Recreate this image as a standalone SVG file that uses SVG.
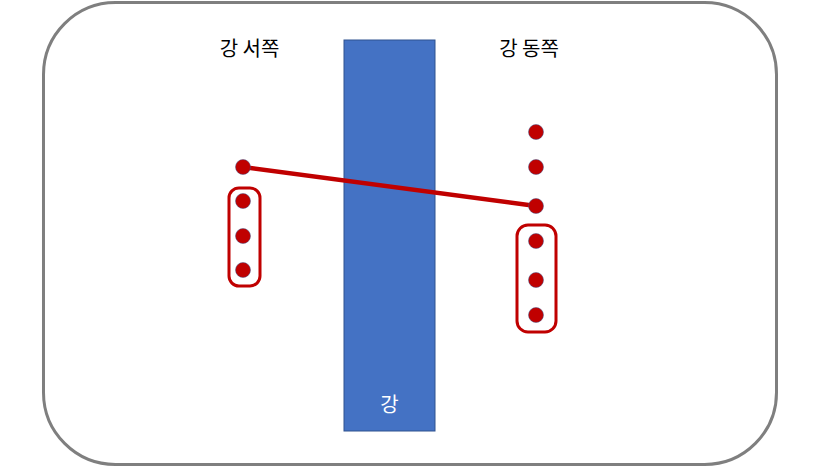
<svg xmlns="http://www.w3.org/2000/svg" width="820" height="467" viewBox="0 0 820 467">
<style>
.lbl{font-family:"Noto Sans CJK KR","Noto Sans CJK SC",sans-serif;font-size:20px;text-anchor:middle}
.dot{fill:#C00000;stroke:#41558A;stroke-width:0.5}
.grp{fill:none;stroke:#C00000;stroke-width:3}
</style>
<rect width="820" height="467" fill="#FFFFFF"/>
<g id="frame"><rect x="43.5" y="2.5" width="733" height="462" rx="72" ry="72" fill="#FFFFFF" stroke="#7F7F7F" stroke-width="3"/></g>
<g id="river"><rect x="344" y="40" width="91" height="391" fill="#4472C4" stroke="#2F528F" stroke-width="1"/>
<text class="lbl" x="389.5" y="412" fill="#FFFFFF">강</text></g>
<g id="west-label"><text class="lbl" x="249.5" y="56" fill="#000000">강 서쪽</text></g>
<g id="east-label"><text class="lbl" x="529" y="56" fill="#000000">강 동쪽</text></g>
<g id="connectors"><line x1="243" y1="167" x2="536" y2="206" stroke="#C00000" stroke-width="4.5"/></g>
<g id="west-group"><rect class="grp" x="229" y="188" width="31" height="98" rx="10" ry="10"/></g>
<g id="east-group"><rect class="grp" x="517" y="225" width="39" height="107" rx="11" ry="11"/></g>
<g id="west-dots">
<circle class="dot" cx="243" cy="167" r="7.5"/>
<circle class="dot" cx="243" cy="201" r="7.5"/>
<circle class="dot" cx="243" cy="236" r="7.5"/>
<circle class="dot" cx="243" cy="270" r="7.5"/>
</g>
<g id="east-dots">
<circle class="dot" cx="536" cy="132" r="7.5"/>
<circle class="dot" cx="536" cy="167" r="7.5"/>
<circle class="dot" cx="536" cy="206" r="7.5"/>
<circle class="dot" cx="536" cy="241" r="7.5"/>
<circle class="dot" cx="536" cy="280" r="7.5"/>
<circle class="dot" cx="536" cy="315" r="7.5"/>
</g>
</svg>
